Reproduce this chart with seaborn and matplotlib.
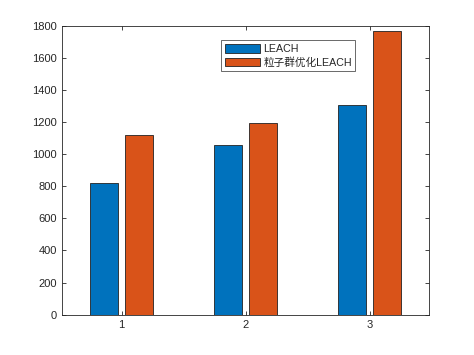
import seaborn as sns
import pandas as pd
import matplotlib
matplotlib.use('Agg')
import matplotlib.pyplot as plt

# values
groups = ['1', '2', '3']
leach = [820, 1060, 1305]
pso_leach = [1120, 1195, 1765]
series_names = ['LEACH', '粒子群优化LEACH']

df = pd.DataFrame({
    'group': groups * 2,
    'value': leach + pso_leach,
    'series': [series_names[0]] * 3 + [series_names[1]] * 3,
})

sns.set_theme(style='white')
plt.rcParams['font.family'] = ['Liberation Sans', 'Noto Sans CJK SC', 'DejaVu Sans']

fig = plt.figure(figsize=(4.74, 3.55), dpi=100)
ax = fig.add_axes([0.1308, 0.1135, 0.7743, 0.814])

sns.barplot(data=df, x='group', y='value', hue='series',
            palette=['#0072BD', '#D95319'], width=0.572, gap=0.21,
            edgecolor='#222222', linewidth=0.6, saturation=1, ax=ax)

ax.set_xlim(-0.48, 2.48)
ax.set_ylim(0, 1800)
ax.set_yticks(range(0, 1801, 200))
ax.set_xlabel('')
ax.set_ylabel('')

for s in ax.spines.values():
    s.set_color('#262626')
    s.set_linewidth(0.6)
ax.tick_params(axis='both', direction='in', length=3, width=0.6,
               colors='#262626', labelsize=8, top=True, right=True,
               bottom=True, left=True, labelcolor='#262626')

leg = ax.legend(loc='upper left', bbox_to_anchor=(0.466, 0.887),
                bbox_transform=fig.transFigure, borderaxespad=0,
                fontsize=7.7, frameon=True, fancybox=False,
                handlelength=3.3, handleheight=0.9, borderpad=0.35,
                labelspacing=0.3, handletextpad=0.3)
leg.get_frame().set_edgecolor('#262626')
leg.get_frame().set_linewidth(0.6)

fig.savefig('out.png', dpi=100)
